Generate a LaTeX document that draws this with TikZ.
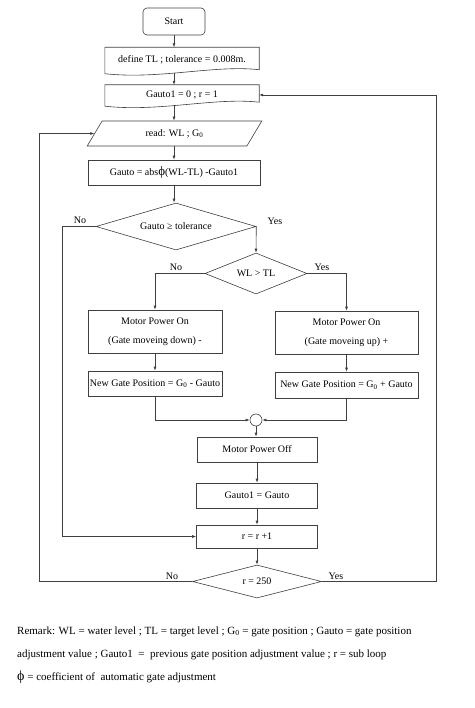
\documentclass[tikz,border=0pt]{standalone}
\usepackage{fontspec}
\setmainfont{Liberation Serif}
\usetikzlibrary{shapes.geometric}
\usetikzlibrary{arrows.meta}

\tikzset{
  line/.style={draw=black!75, line width=0.6pt},
  arr/.style={line, -{Latex[length=4pt,width=3pt]}},
  box/.style={line, rectangle, inner sep=1pt, font=\fontsize{10}{12}\selectfont},
  docbox/.style={inner sep=1pt, font=\fontsize{10}{12}\selectfont},
  decision/.style={line, diamond, aspect=2, inner sep=0pt, font=\fontsize{10}{12}\selectfont},
  inputbox/.style={line, trapezium, trapezium left angle=55, trapezium right angle=125,
    trapezium stretches, inner sep=0pt, font=\fontsize{10}{12}\selectfont},
  tag/.style={font=\fontsize{10}{12}\selectfont, inner sep=1pt},
  remark/.style={anchor=base west, inner sep=0pt, font=\fontsize{11}{13}\selectfont}
}
% document shape: straight top, wavy bottom
\newcommand\docshape[1]{%
  \draw[line] ([yshift=-1pt]#1.south west) -- (#1.north west) -- (#1.north east)
    -- ([yshift=3pt]#1.south east)
    .. controls +(-45pt,5pt) and +(55pt,-6pt) .. ([yshift=-1pt]#1.south west);}

\begin{document}
\begin{tikzpicture}[x=1pt, y=-1pt]
  \useasboundingbox (0,0) rectangle (474,708);

  % main column
  \node[box, rounded corners=4pt, minimum width=62pt, minimum height=27pt] (start) at (174,21.5) {Start};
  \node[docbox, minimum width=154pt, minimum height=25pt] (define) at (182,60) {define TL ; tolerance = 0.008m.};
  \docshape{define}
  \node[docbox, minimum width=154pt, minimum height=20pt] (init) at (182,95) {Gauto1 = 0 ; r = 1};
  \docshape{init}
  \node[inputbox, minimum width=175pt, minimum height=25pt] (read) at (174.5,133.5) {read: WL ; G\textsubscript{0}};
  \node[box, minimum width=172pt, minimum height=25pt] (gauto) at (174,172.5)
    {Gauto = abs{\fontsize{13}{13}\selectfont ϕ}(WL-TL) -Gauto1};
  \node[decision, minimum width=160pt, minimum height=47pt] (tol) at (176,226.5) {Gauto ≥ tolerance};
  \node[decision, minimum width=102pt, minimum height=41pt] (wltl) at (256,273.5) {WL > TL};

  % two branches
  \node[box, minimum width=134pt, minimum height=43pt, align=center] (mdown) at (155,331.5)
    {Motor Power On\\[7pt](Gate moveing down) -};
  \node[box, minimum width=143pt, minimum height=43pt, align=center] (mup) at (346.5,332.5)
    {Motor Power On\\[7pt](Gate moveing up) +};
  \node[box, minimum width=134pt, minimum height=25pt] (newdown) at (155,383.5)
    {New Gate Position = G\textsubscript{0} - Gauto};
  \node[box, minimum width=143pt, minimum height=26pt] (newup) at (346.5,385)
    {New Gate Position = G\textsubscript{0} + Gauto};
  \node[line, circle, minimum size=12pt, inner sep=0pt] (join) at (256,420) {};

  \node[box, minimum width=120pt, minimum height=25pt] (moff) at (257,449.5) {Motor Power Off};
  \node[box, minimum width=121pt, minimum height=25pt] (store) at (257,495.5) {Gauto1 = Gauto};
  \node[box, minimum width=121pt, minimum height=23pt] (incr) at (257,536.5) {r = r +1};
  \node[decision, minimum width=129pt, minimum height=33pt] (count) at (257,581.5) {r = 250};

  % labels
  \node[tag] (no1) at (80,220) {No};
  \node[tag] (yes1) at (275,221) {Yes};
  \node[tag] (no2) at (176,267) {No};
  \node[tag] (yes2) at (322,267) {Yes};
  \node[tag] (no3) at (172,576) {No};
  \node[tag] (yes3) at (336,576) {Yes};

  % connectors
  \draw[arr] (start) -- (start |- define.north);
  \draw[arr] (start |- define.south) -- (start |- init.north);
  \draw[arr] (start |- init.south) -- (start |- read.north);
  \draw[arr] (start |- read.south) -- (start |- gauto.north);
  \draw[arr] (start |- gauto.south) -- (start |- tol.north);
  \draw[arr] (tol.east) -- (wltl.north);
  \draw[arr] (tol.west) -- ++(-33,0) |- (incr.west);
  \draw[arr] (wltl.west) -| (mdown.north);
  \draw[arr] (wltl.east) -| (mup.north);
  \draw[arr] (mdown) -- (newdown);
  \draw[arr] (mup) -- (newup);
  \draw[arr] (newdown.south) |- (join.west);
  \draw[arr] (newup.south) |- (join.east);
  \draw[arr] (join) -- (join |- moff.north);
  \draw[arr] (moff) -- (store);
  \draw[arr] (store) -- (incr);
  \draw[arr] (incr) -- (count);
  \draw[arr] (count.west) -- ++(-153,0) |- (read.west);
  \draw[arr] (count.east) -- ++(114,0) |- (init.east);

  % remark
  \node[remark] (rem1) at (17,634) {Remark: WL = water level ; TL = target level ; G\textsubscript{0} = gate position ; Gauto = gate position};
  \node[remark] (rem2) at (17,657) {adjustment value ; Gauto1 \ = \ previous gate position adjustment value ; r = sub loop};
  \node[remark] (rem3) at (17,680) {{\fontsize{14}{14}\selectfont ϕ} = coefficient of \ automatic gate adjustment};
\end{tikzpicture}
\end{document}
